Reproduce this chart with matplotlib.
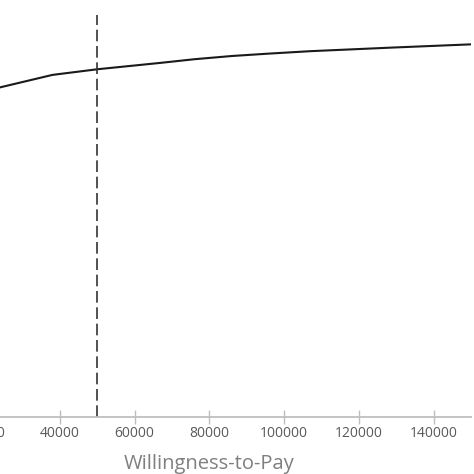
import matplotlib
matplotlib.use("Agg")
import matplotlib.pyplot as plt

# Data (cost-effectiveness acceptability curve)
wtp = [20000, 24000, 38000, 50000, 67000, 76000, 86000, 96000, 107000, 129000, 150000]
prob = [0.810, 0.820, 0.851, 0.865, 0.881, 0.890, 0.898, 0.904, 0.910, 0.919, 0.927]
threshold = 50000
xticks = [20000, 40000, 60000, 80000, 100000, 120000, 140000]
xlabel = "Willingness-to-Pay"

plt.rcParams['font.family'] = ['Open Sans', 'DejaVu Sans']

fig = plt.figure(figsize=(4.74, 4.74), dpi=100)
W = 474.0
left_px, right_px = -89.6, 471.0
bottom_px, top_px = 417.0, 15.0
ax = fig.add_axes([left_px / W, (W - bottom_px) / W,
                   (right_px - left_px) / W, (bottom_px - top_px) / W])

ax.plot(wtp, prob, color='#1a1a1a', lw=1.5)
ax.axvline(threshold, color='#333333', lw=1.2, dashes=(7, 2.8))

ax.set_xlim(0, 150000)
ax.set_ylim(0, 1)
for s in ['top', 'right', 'left']:
    ax.spines[s].set_visible(False)
ax.spines['bottom'].set_color('#bfbfbf')
ax.spines['bottom'].set_linewidth(1.3)
ax.set_yticks([])
ax.set_xticks(xticks)
ax.set_xticklabels([str(v) for v in xticks])
ax.tick_params(axis='x', direction='inout', length=9.5, width=1.0,
               color='#bfbfbf', labelcolor='#595959', labelsize=10, pad=2)
ax.set_xlabel(xlabel, color='#7f7f7f', fontsize=14.5, labelpad=4)
ax.xaxis.set_label_coords((209 - left_px) / (right_px - left_px), -0.092)

fig.savefig("out.png", dpi=100)
